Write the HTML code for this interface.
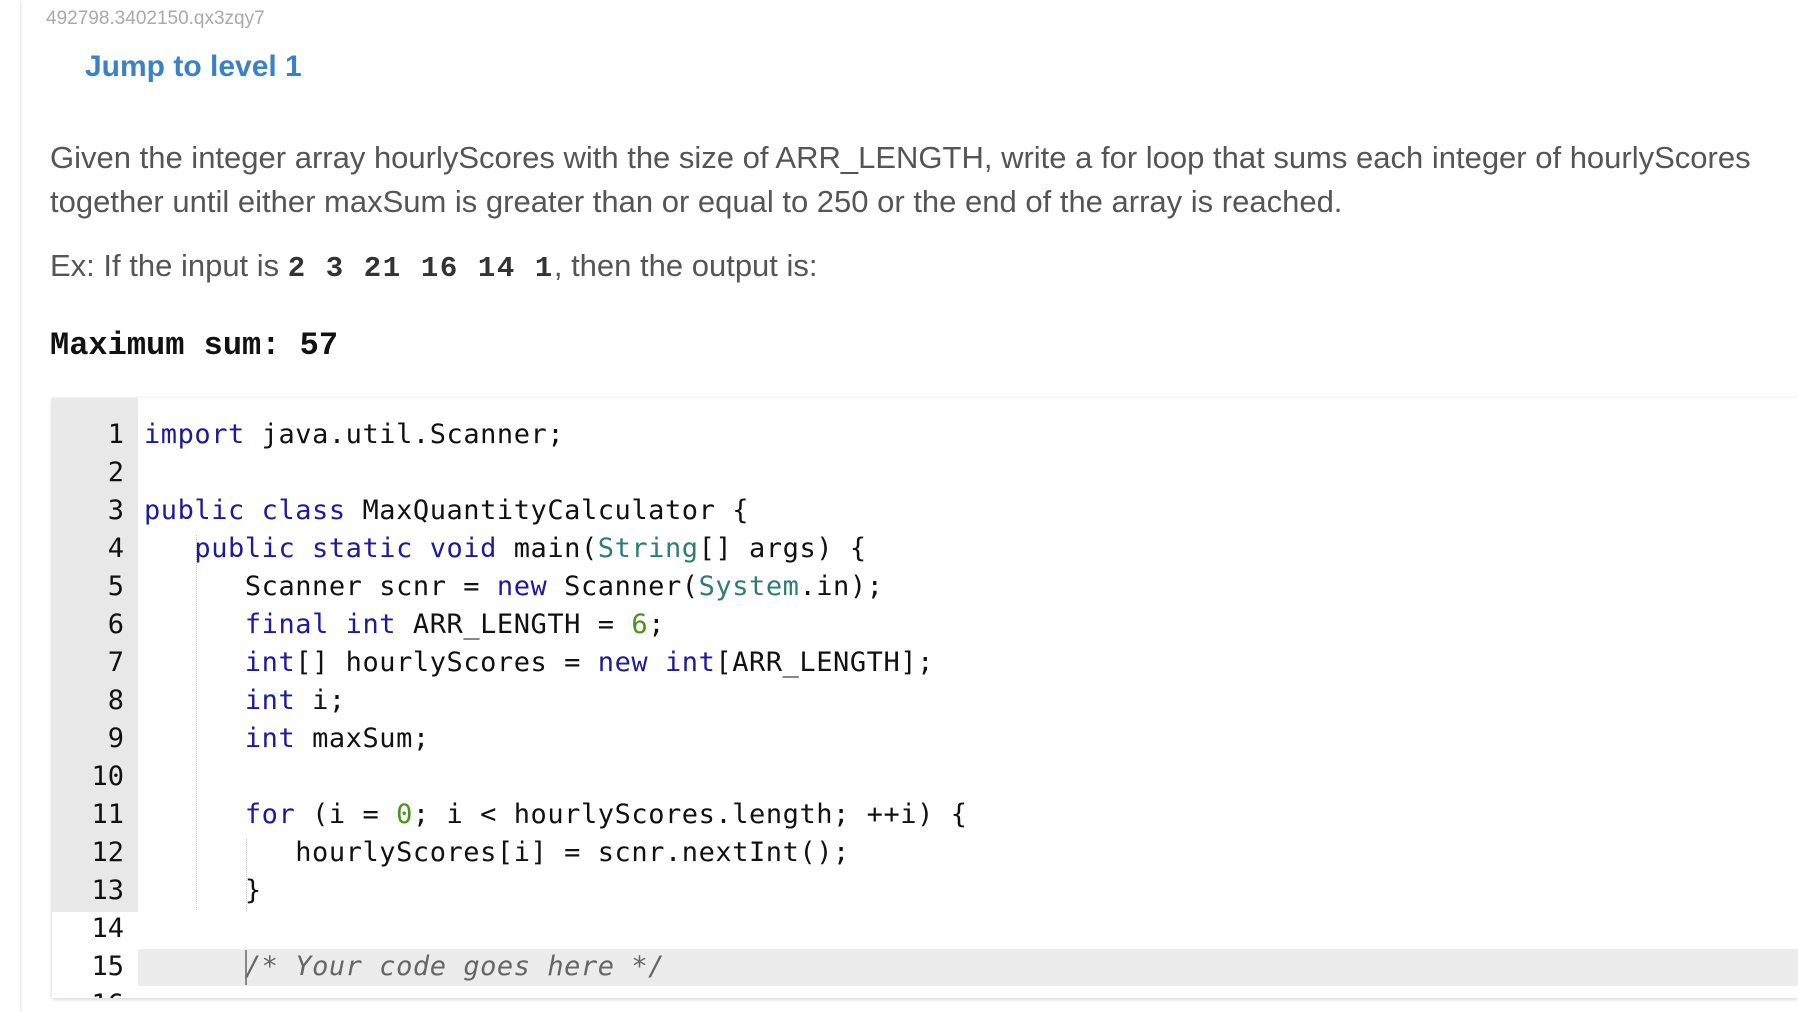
<!DOCTYPE html>
<html><head><meta charset="utf-8"><style>
body{margin:0;width:1798px;height:1012px;overflow:hidden;background:#fff;position:relative;font-family:"Liberation Sans",sans-serif}
.border{position:absolute;left:0;top:0;width:20px;height:1012px;background:#fff;box-shadow:1px 0 3px rgba(0,0,0,.12)}
.id{position:absolute;left:46px;top:8px;font-size:19px;color:#aaa}
.jump{position:absolute;left:85px;top:50px;font-size:30px;font-weight:bold;color:#3b82c4}
.p{position:absolute;left:50px;font-size:31px;color:#555;white-space:nowrap}
.mono{font-family:"Liberation Mono",monospace}
.out{position:absolute;left:50px;top:327px;font-family:"Liberation Mono",monospace;font-weight:bold;font-size:32px;color:#111}
.box{position:absolute;left:52px;top:398px;width:1746px;height:600px;background:#fff;box-shadow:0 1px 4px rgba(0,0,0,.2);overflow:hidden}
.gut{position:absolute;left:0;top:0;width:86px;height:514px;background:#e8e8e8}
.hl{position:absolute;left:86px;top:551px;right:0;height:37px;background:#ececec}
.ln{position:absolute;left:0;width:72px;text-align:right;font-family:"DejaVu Sans Mono",monospace;font-size:27px;color:#111}
.cd{position:absolute;left:92px;font-family:"DejaVu Sans Mono",monospace;font-size:27px;color:#111;white-space:pre;letter-spacing:0.55px}
.k{color:#1c1c96}.t{color:#2e7d72}.n{color:#4a9120}.c{color:#666;font-style:italic}
.g{position:absolute;width:0;border-left:1px dotted #ccc}
</style></head><body>
<div class="border"></div>
<div class="id">492798.3402150.qx3zqy7</div>
<div class="jump">Jump to level 1</div>
<div class="p" style="top:140px">Given the integer array hourlyScores with the size of ARR_LENGTH, write a for loop that sums each integer of hourlyScores</div>
<div class="p" style="top:184px">together until either maxSum is greater than or equal to 250 or the end of the array is reached.</div>
<div class="p" style="top:248px">Ex: If the input is <span class="mono" style="font-size:29px;color:#333;font-weight:bold;letter-spacing:1.6px">2 3 21 16 14 1</span>, then the output is:</div>
<div class="out">Maximum sum: 57</div>
<div class="box">
<div class="gut"></div>
<div class="hl"></div>
<div class="g" style="left:144px;top:137px;height:375px"></div>
<div class="g" style="left:194px;top:441px;height:72px"></div>
<div style="position:absolute;left:193px;top:552px;width:2px;height:35px;background:#888"></div>
<div class="ln" style="top:21px">1</div><div class="ln" style="top:59px">2</div><div class="ln" style="top:97px">3</div><div class="ln" style="top:135px">4</div><div class="ln" style="top:173px">5</div><div class="ln" style="top:211px">6</div><div class="ln" style="top:249px">7</div><div class="ln" style="top:287px">8</div><div class="ln" style="top:325px">9</div><div class="ln" style="top:363px">10</div><div class="ln" style="top:401px">11</div><div class="ln" style="top:439px">12</div><div class="ln" style="top:477px">13</div><div class="ln" style="top:515px">14</div><div class="ln" style="top:553px">15</div><div class="ln" style="top:591px">16</div>
<div class="cd" style="top:21px"><span class="k">import</span> java.util.Scanner;</div>
<div class="cd" style="top:97px"><span class="k">public class</span> MaxQuantityCalculator {</div>
<div class="cd" style="top:135px">   <span class="k">public static void</span> main(<span class="t">String</span>[] args) {</div>
<div class="cd" style="top:173px">      Scanner scnr = <span class="k">new</span> Scanner(<span class="t">System</span>.in);</div>
<div class="cd" style="top:211px">      <span class="k">final int</span> ARR_LENGTH = <span class="n">6</span>;</div>
<div class="cd" style="top:249px">      <span class="k">int</span>[] hourlyScores = <span class="k">new int</span>[ARR_LENGTH];</div>
<div class="cd" style="top:287px">      <span class="k">int</span> i;</div>
<div class="cd" style="top:325px">      <span class="k">int</span> maxSum;</div>
<div class="cd" style="top:401px">      <span class="k">for</span> (i = <span class="n">0</span>; i &lt; hourlyScores.length; ++i) {</div>
<div class="cd" style="top:439px">         hourlyScores[i] = scnr.nextInt();</div>
<div class="cd" style="top:477px">      }</div>
<div class="cd" style="top:553px">      <span class="c">/* Your code goes here */</span></div>
</div>
</body></html>
